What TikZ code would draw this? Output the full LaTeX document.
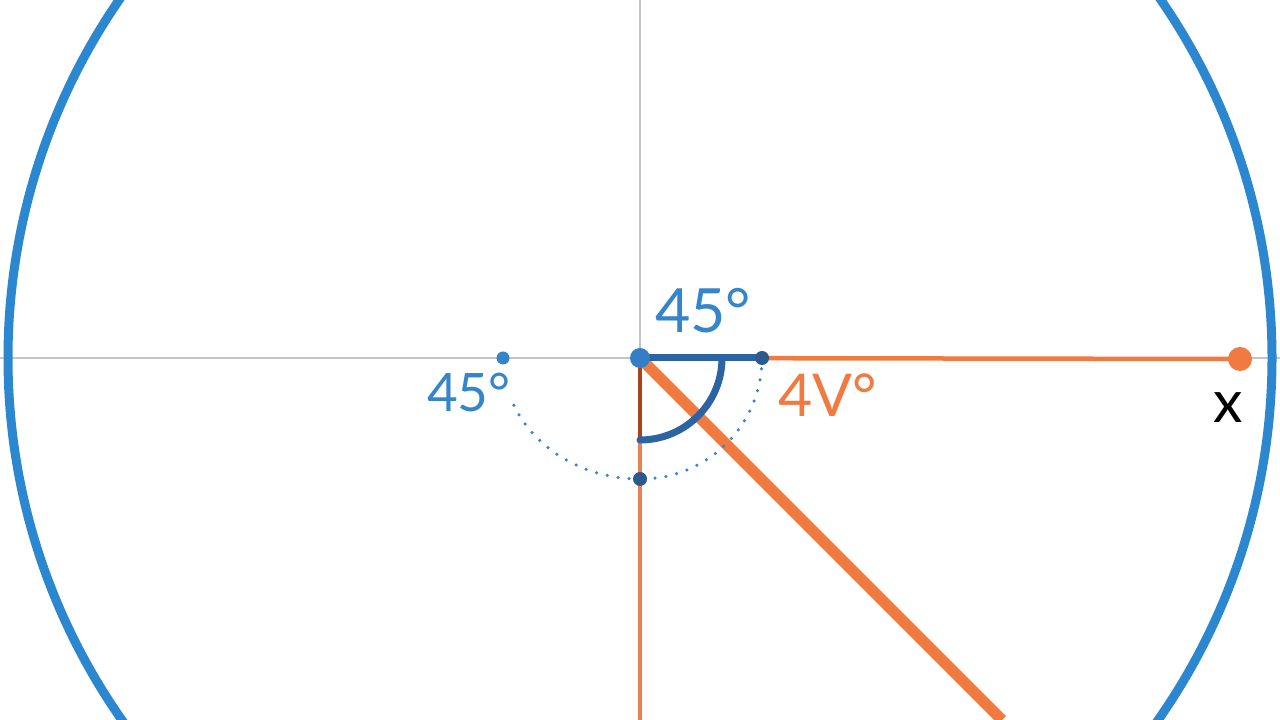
\documentclass[tikz,border=0pt]{standalone}
\usepackage{fontspec}
\setmainfont{Lato}
\definecolor{circblue}{HTML}{2A87D0}
\definecolor{txtblue}{HTML}{3585CC}
\definecolor{segblue}{HTML}{2B63A3}
\definecolor{dotdark}{HTML}{2C5A8C}
\definecolor{orng}{HTML}{F07A40}
\definecolor{orngl}{HTML}{EC8055}
\definecolor{brwn}{HTML}{A9431F}
\definecolor{axgray}{HTML}{C4C4C4}
\tikzset{
  axis/.style={draw=axgray, line width=2},
  dotline/.style={draw=txtblue, line width=3.5, line cap=round, dash pattern=on 0pt off 11pt},
  lbl/.style={inner sep=0pt, anchor=base west},
}
\begin{document}
\begin{tikzpicture}[x=1pt,y=1pt]
\useasboundingbox (0,0) rectangle (1280,720);
\clip (0,0) rectangle (1280,720);
\fill[white] (0,0) rectangle (1280,720);
\coordinate (C) at (640,362);
\coordinate (Lend) at (0,362);
\coordinate (Rend) at (1280,362);
\coordinate (Top) at (640,720);
\coordinate (Bot) at (640,0);
\coordinate (X) at (1240,361);
\coordinate (B1) at (762,362);
\coordinate (D) at (1002,0);
\coordinate (Br1) at (640,355);
\coordinate (Br2) at (640,280);
\coordinate (A1) at (722,362);
\coordinate (P1) at (640,241);
\coordinate (P2) at (503,362);
% axes
\draw[axis] (Lend) -- (Rend);
\draw[axis] (C) -- (Top);
% circle
\draw[circblue, line width=9] (C) circle[radius=632];
% orange lines
\draw[orngl, line width=4.5] (C) -- (Bot);
\draw[brwn, line width=4.5] (Br1) -- (Br2);
\draw[orng, line width=4.5] (C) -- (X);
\draw[orng, line width=11] (C) -- (D);
% dotted arcs
\draw[dotline] (B1) arc[start angle=0, end angle=-90, radius=121];
\draw[dotline] (P1) arc[start angle=-90, end angle=-162, x radius=137, y radius=121];
% blue angle arc and segment
\draw[segblue, line width=7, line cap=round] (A1) arc[start angle=0, end angle=-90, radius=82];
\draw[segblue, line width=7] (C) -- (B1);
% dots
\fill[orng] (X) circle[radius=12];
\fill[txtblue!80!segblue] (C) circle[radius=10];
\fill[dotdark] (B1) circle[radius=7];
\fill[dotdark] (P1) circle[radius=7];
\fill[txtblue] (P2) circle[radius=6.5];
% labels
\node[lbl, text=txtblue, font=\fontsize{61}{61}\selectfont] (t1) at (655,387) {45°};
\node[lbl, text=txtblue, font=\fontsize{53}{53}\selectfont] (t2) at (427,308) {45°};
\node[lbl, text=orng, font=\fontsize{59}{59}\selectfont] (t3) at (778,303) {4V°};
\node[inner sep=0pt, anchor=base, font=\fontsize{59}{59}\selectfont] (t4) at (1228,297) {x};
\end{tikzpicture}
\end{document}
